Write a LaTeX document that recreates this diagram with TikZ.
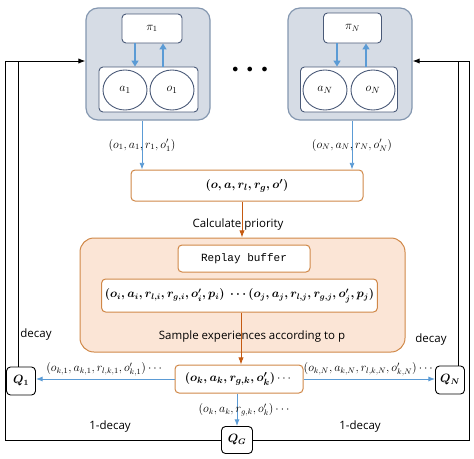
\documentclass[tikz,border=0pt]{standalone}
\usepackage{amsmath, amssymb}
\usepackage{fontspec}
\setmainfont{Open Sans}
\setmonofont{Liberation Mono}
\usetikzlibrary{positioning,arrows.meta,shapes.geometric}
\definecolor{agentfill}{HTML}{D6DCE5}
\definecolor{agentline}{HTML}{8497B0}
\definecolor{innerline}{HTML}{4A5A78}
\definecolor{flowblue}{HTML}{5B9BD5}
\definecolor{bufline}{HTML}{D08848}
\definecolor{buffill}{HTML}{FBE5D6}
\definecolor{calcline}{HTML}{C55A11}

\begin{document}
\begin{tikzpicture}[x=1pt, y=-1pt, >=Latex, every node/.style={font=\fontsize{11.5}{13}\selectfont},
  agentbox/.style={draw=agentline, line width=1.2pt, fill=agentfill, rounded corners=12pt, minimum width=124pt, minimum height=112pt},
  innerbox/.style={draw=innerline, line width=0.9pt, fill=white, rounded corners=4pt},
  obscircle/.style={ellipse, draw=innerline, line width=0.9pt, fill=white, minimum width=44pt, minimum height=40pt, inner sep=0pt, font=\fontsize{13}{15}\selectfont},
  orangebox/.style={draw=bufline, line width=1pt, fill=white, rounded corners=4pt},
  qbox/.style={draw, line width=0.9pt, fill=white, rounded corners=4pt, minimum width=29pt, minimum height=28pt, inner sep=0pt, font=\fontsize{12}{14}\selectfont},
  flow/.style={->, flowblue, line width=0.8pt},
  flowlabel/.style={text=black, font=\fontsize{11.5}{13}\selectfont},
  thickflow/.style={-{Triangle[length=6pt, width=7pt]}, flowblue, line width=2.4pt},
  loopline/.style={line width=0.9pt}]
  \useasboundingbox (0,0) rectangle (474,458);

  % agents
  \node[agentbox] (agent1) at (148,64) {};
  \node[innerbox, minimum width=60pt, minimum height=29pt, font=\fontsize{12}{14}\selectfont] (pi1) at (152,28.5) {$\pi_1$};
  \node[innerbox, minimum width=99pt, minimum height=45pt] (obs1) at (148.5,89.5) {};
  \node[obscircle] (a1) at (125,90) {$a_1$};
  \node[obscircle] (o1) at (172,90) {$o_1$};
  \draw[thickflow] ([xshift=-17pt]pi1.south) -- ([xshift=-17pt]pi1.south |- obs1.north);
  \draw[thickflow] ([xshift=11pt]pi1.south |- obs1.north) -- ([xshift=11pt]pi1.south);

  \node[agentbox] (agentN) at (350,64) {};
  \node[innerbox, minimum width=58pt, minimum height=30pt, font=\fontsize{12}{14}\selectfont] (piN) at (352.5,28) {$\pi_N$};
  \node[innerbox, minimum width=97pt, minimum height=45pt] (obsN) at (349,89.5) {};
  \node[obscircle] (aN) at (325,90) {$a_N$};
  \node[obscircle] (oN) at (373,90) {$o_N$};
  \draw[thickflow] ([xshift=-15.5pt]piN.south) -- ([xshift=-15.5pt]piN.south |- obsN.north);
  \draw[thickflow] ([xshift=13.5pt]piN.south |- obsN.north) -- ([xshift=13.5pt]piN.south);

  \node (dots) at (250,70) {$\bullet\hspace{6pt}\bullet\hspace{6pt}\bullet$};

  % buffer
  \node[orangebox, minimum width=232pt, minimum height=31pt, font=\fontsize{12.5}{14}\selectfont] (trans) at (247,185.5) {$\boldsymbol{(o, a, r_l, r_g, o')}$};
  \draw[flow] ([xshift=-6pt]agent1.south) -- ([xshift=-6pt]agent1.south |- trans.north) node[flowlabel, midway] {$(o_1, a_1, r_1, o'_1)$};
  \draw[flow] ([xshift=2pt]agentN.south) -- ([xshift=2pt]agentN.south |- trans.north) node[flowlabel, midway] {$(o_N, a_N, r_N, o'_N)$};

  \node[draw=bufline, line width=1pt, fill=buffill, rounded corners=14pt, minimum width=325pt, minimum height=114pt] (buffer) at (242.5,295) {};
  \node[orangebox, minimum width=132pt, minimum height=27pt, font=\fontsize{11}{13}\selectfont\ttfamily] (replay) at (244,258.5) {Replay buffer};
  \node[orangebox, minimum width=275pt, minimum height=33pt, font=\fontsize{12}{14}\selectfont] (exps) at (239.5,295.5) {$\boldsymbol{(o_i, a_i, r_{l,i}, r_{g,i}, o'_i, p_i)\ \cdots(o_j, a_j, r_{l,j}, r_{g,j}, o'_j, p_j)}$};
  \draw[->, calcline, line width=0.9pt] ([xshift=-5pt]trans.south) -- ([xshift=-5pt]trans.south |- buffer.north);
  \node (calc) at (238,225) {Calculate priority};
  \node (sample) at (252,337) {Sample experiences according to p};

  % sampled batch
  \node[orangebox, minimum width=128pt, minimum height=28pt, font=\fontsize{13}{15}\selectfont] (batch) at (239,379) {$\boldsymbol{(o_k, a_k, r_{g,k}, o'_k)}\cdots$};
  \draw[->, calcline, line width=0.9pt] ([xshift=1.5pt]exps.south) -- ([xshift=1.5pt]exps.south |- batch.north);

  \node[qbox] (q1) at (21,381) {$\boldsymbol{Q_1}$};
  \node[qbox] (qN) at (450,380) {$\boldsymbol{Q_N}$};
  \node[qbox, minimum width=31pt, minimum height=27pt] (qG) at (237,440) {$\boldsymbol{Q_G}$};

  \draw[flow] (batch.west) -- (batch.west -| q1.east) node[flowlabel, midway, above=-1pt] {$(o_{k,1}, a_{k,1}, r_{l,k,1}, o'_{k,1})\cdots$};
  \draw[flow] (batch.east) -- (batch.east -| qN.west) node[flowlabel, midway, above=-1pt] {$(o_{k,N}, a_{k,N}, r_{l,k,N}, o'_{k,N})\cdots$};
  \draw[flow] (batch.south -| qG.north) -- (qG.north) node[flowlabel, midway, xshift=8pt] {$(o_k, a_k, r_{g,k}, o'_k)\cdots$};

  % decay feedback
  \coordinate (topL) at (5,61);
  \coordinate (topR) at (469,61);
  \draw[loopline, ->] (qG.west) -| (topL) -- (topL -| agent1.west);
  \draw[loopline, ->] (qG.east) -| (topR) -- (topR -| agentN.east);
  \draw[loopline] ([xshift=-3pt]q1.north) -- ([xshift=-3pt]q1.north |- topL);
  \draw[loopline] ([xshift=8pt]qN.north) -- ([xshift=8pt]qN.north |- topR);
  \node (decayL) at (36,335) {decay};
  \node (decayR) at (431,340) {decay};
  \node (gdecayL) at (110,427) {1-decay};
  \node (gdecayR) at (360,427) {1-decay};
\end{tikzpicture}
\end{document}
